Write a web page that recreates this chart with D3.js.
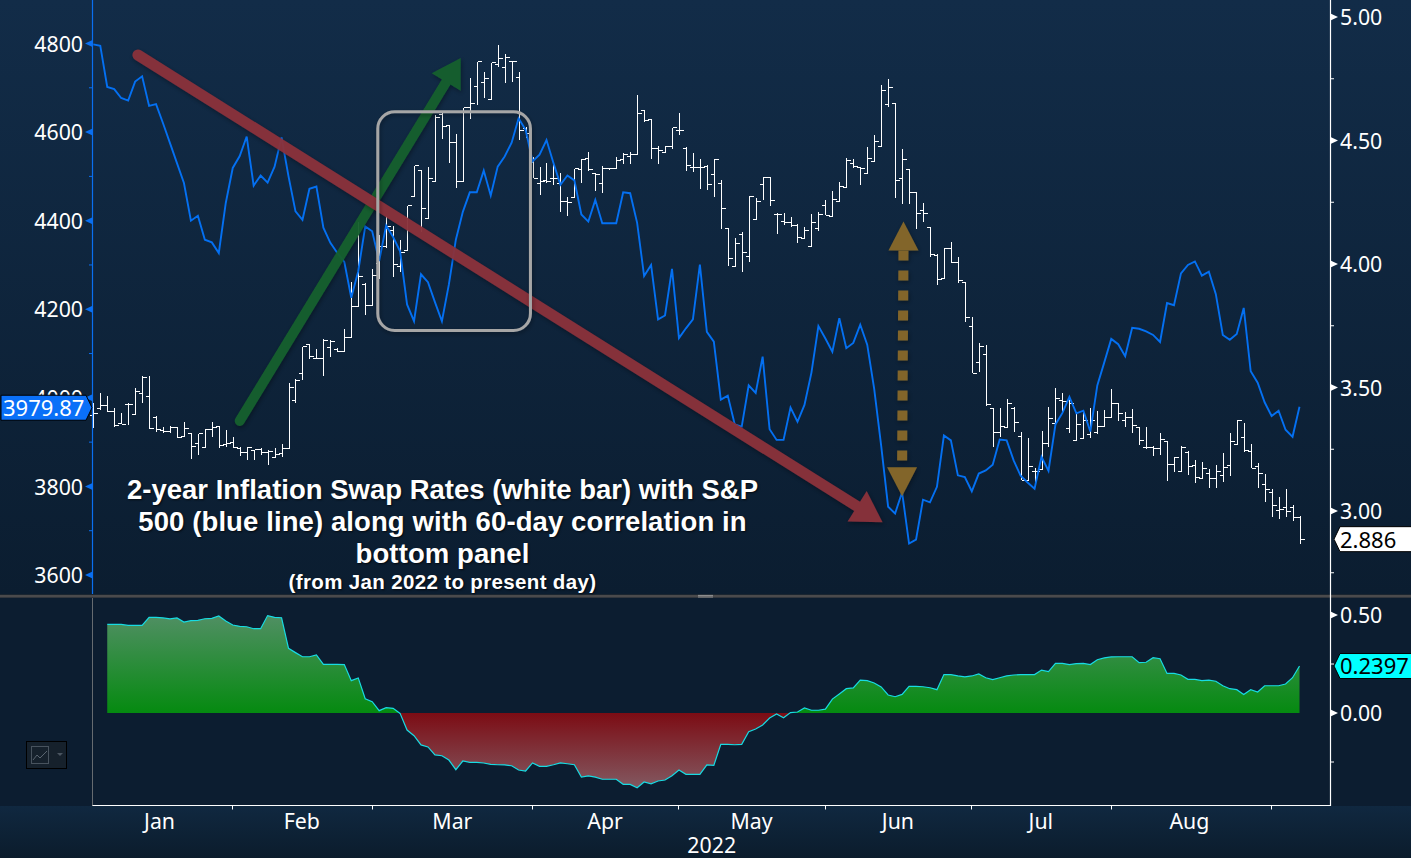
<!DOCTYPE html>
<html><head><meta charset="utf-8">
<script src="https://cdn.jsdelivr.net/npm/d3@7"></script>
<style>html,body{margin:0;padding:0;background:#0c1d30;overflow:hidden}svg{display:block}</style>
</head><body><svg id="c" width="1411" height="858"></svg>
<script>
const spx=[4798,4795,4702,4697,4677,4671,4714,4726,4659,4663,4620,4575,4530,4485,4400,4411,4357,4351,4327,4440,4519,4546,4590,4479,4502,4486,4522,4588,4500,4421,4402,4472,4477,4384,4350,4327,4307,4226,4286,4387,4376,4309,4389,4363,4331,
4211,4173,4279,4261,4216,4173,4256,4357,4420,
4464,4464,4513,4457,4522,4545,4576,4631,4605,4534,4549,4582,4530,4481,4502,4491,4414,4398,4447,4394,4394,4394,4464,4462,4395,4275,4300,4177,4186,4291,
4135,4157,4177,4301,4149,4127,3996,4005,3940,3935,4028,4011,4093,3929,3905,3905,3978,3946,3984,4057,4162,4134,4104,4180,4112,4124,4165,4120,4020,3892,3754,3739,3787,3671,3680,3770,3764,3799,
3915,3904,3825,3821,3789,3829,3836,3849,3906,3904,3859,3824,3809,3795,3867,3835,3940,3966,4002,3965,3971,3924,4028,4080,4133,4121,4094,4158,4156,4150,4142,4126,4214,4209,4281,4300,4308,4276,4285,4234,4142,4131,4144,4203,4060,4034,3990,3959,3971,3928,3912,3980];
const opens=[3.388,3.413,3.429,3.401,3.356,3.433,3.392,3.477,3.465,3.380,3.324,3.320,3.340,3.300,3.312,3.275,3.259,3.328,3.344,3.271,3.279,3.255,3.235,3.243,3.247,3.235,3.215,3.231,3.255,3.449,3.558,3.676,3.619,3.619,3.660,3.652,3.644,3.704,3.826,3.915,3.830,4.004,4.069,4.134,3.988,4.053,4.275,4.377,4.186,4.332,4.607,4.559,4.490,4.332,4.632,4.717,4.733,4.668,4.806,4.794,4.818,4.757,4.547,4.409,4.324,4.340,4.348,4.324,4.255,4.271,4.381,4.429,4.368,4.324,4.385,4.385,4.425,4.437,4.445,4.623,4.587,4.466,4.453,4.474,4.539,4.466,4.389,4.389,4.393,4.364,4.324,4.142,3.988,4.121,4.032,4.182,4.320,4.352,4.202,4.174,4.166,4.154,4.105,4.069,4.142,4.235,4.194,4.255,4.308,4.405,4.389,4.368,4.417,4.474,4.644,4.648,4.348,4.381,4.291,4.218,4.146,4.036,3.943,4.061,4.008,3.927,3.745,3.603,3.635,3.417,3.316,3.340,3.417,3.300,3.125,3.158,3.166,3.275,3.356,3.449,3.336,3.287,3.295,3.308,3.316,3.344,3.380,3.437,3.368,3.380,3.340,3.259,3.259,3.255,3.283,3.190,3.158,3.235,3.186,3.133,3.150,3.133,3.145,3.186,3.271,3.299,3.239,3.182,3.109,3.073,3.004,3.016,3.016,2.972];
const highs=[3.437,3.477,3.465,3.417,3.396,3.437,3.498,3.546,3.546,3.384,3.340,3.344,3.340,3.360,3.312,3.312,3.332,3.360,3.344,3.328,3.300,3.259,3.259,3.247,3.255,3.247,3.255,3.271,3.518,3.534,3.664,3.676,3.656,3.696,3.692,3.660,3.737,3.927,4.170,3.923,3.980,4.117,4.194,4.154,4.097,4.235,4.397,4.377,4.393,4.603,4.611,4.563,4.527,4.632,4.753,4.818,4.777,4.814,4.887,4.850,4.822,4.777,4.555,4.433,4.393,4.409,4.413,4.368,4.271,4.385,4.425,4.453,4.368,4.397,4.389,4.433,4.449,4.453,4.684,4.623,4.587,4.478,4.478,4.551,4.611,4.474,4.449,4.425,4.401,4.425,4.340,4.142,4.105,4.130,4.275,4.267,4.352,4.352,4.206,4.206,4.190,4.162,4.150,4.202,4.210,4.259,4.295,4.332,4.429,4.425,4.393,4.474,4.522,4.725,4.749,4.648,4.466,4.381,4.291,4.247,4.146,4.040,4.065,4.089,4.028,3.927,3.785,3.680,3.672,3.417,3.417,3.453,3.421,3.320,3.295,3.174,3.324,3.421,3.498,3.477,3.457,3.396,3.401,3.417,3.405,3.409,3.494,3.437,3.401,3.413,3.340,3.340,3.263,3.316,3.283,3.218,3.263,3.243,3.206,3.198,3.170,3.186,3.235,3.316,3.368,3.356,3.271,3.194,3.150,3.089,3.056,3.089,3.024,2.980];
const lows=[3.336,3.409,3.401,3.340,3.352,3.348,3.388,3.437,3.332,3.320,3.316,3.316,3.296,3.300,3.211,3.227,3.255,3.300,3.255,3.259,3.255,3.223,3.206,3.206,3.227,3.186,3.215,3.219,3.255,3.437,3.530,3.615,3.615,3.546,3.623,3.644,3.644,3.704,3.826,3.793,3.830,3.939,4.065,3.947,3.968,4.053,4.275,4.130,4.186,4.332,4.506,4.409,4.308,4.332,4.587,4.644,4.672,4.668,4.798,4.733,4.737,4.502,4.510,4.348,4.279,4.328,4.320,4.211,4.194,4.271,4.328,4.377,4.296,4.287,4.381,4.385,4.405,4.405,4.445,4.575,4.425,4.405,4.449,4.466,4.522,4.377,4.373,4.304,4.300,4.271,4.142,3.992,3.988,3.968,4.008,4.182,4.259,4.235,4.121,4.158,4.150,4.085,4.105,4.069,4.134,4.198,4.190,4.251,4.308,4.389,4.320,4.368,4.413,4.474,4.636,4.267,4.243,4.243,4.142,4.170,4.028,3.915,3.939,4.004,3.923,3.765,3.558,3.562,3.425,3.259,3.300,3.340,3.320,3.125,3.121,3.097,3.166,3.259,3.356,3.396,3.316,3.283,3.291,3.295,3.312,3.340,3.376,3.364,3.340,3.316,3.267,3.251,3.223,3.227,3.121,3.158,3.158,3.145,3.113,3.129,3.093,3.093,3.117,3.141,3.271,3.239,3.174,3.093,3.036,2.976,2.968,2.976,2.959,2.866];
const closes=[3.396,3.429,3.401,3.348,3.352,3.433,3.482,3.542,3.332,3.328,3.320,3.340,3.296,3.332,3.263,3.312,3.328,3.340,3.267,3.275,3.259,3.235,3.259,3.247,3.235,3.239,3.227,3.255,3.502,3.530,3.664,3.627,3.619,3.692,3.688,3.644,3.704,3.826,3.951,3.830,3.955,4.069,4.150,4.000,4.045,4.235,4.397,4.223,4.348,4.595,4.555,4.490,4.336,4.632,4.648,4.818,4.749,4.814,4.834,4.838,4.818,4.539,4.527,4.348,4.332,4.336,4.348,4.255,4.251,4.385,4.425,4.381,4.364,4.385,4.385,4.421,4.445,4.445,4.611,4.579,4.466,4.458,4.474,4.551,4.539,4.397,4.389,4.389,4.320,4.425,4.223,4.024,4.085,4.045,4.275,4.255,4.352,4.259,4.202,4.166,4.154,4.109,4.134,4.170,4.202,4.198,4.263,4.312,4.421,4.393,4.385,4.429,4.494,4.701,4.713,4.340,4.425,4.291,4.206,4.206,4.040,3.939,4.061,4.008,3.935,3.785,3.558,3.664,3.433,3.316,3.344,3.437,3.360,3.125,3.182,3.158,3.275,3.376,3.457,3.445,3.437,3.352,3.368,3.368,3.344,3.380,3.437,3.396,3.380,3.348,3.287,3.259,3.255,3.291,3.190,3.215,3.259,3.182,3.137,3.174,3.133,3.158,3.178,3.283,3.368,3.243,3.174,3.150,3.089,3.024,3.008,2.996,2.972,2.886];
const corr=[.452,.452,.452,.447,.447,.447,.488,.488,.485,.480,.485,.464,.471,.473,.481,.483,.495,.469,.449,.442,.440,.430,.430,.497,.488,.486,.330,.308,.287,.287,.296,.248,.248,.248,.247,.165,.179,.073,.058,.012,.027,.024,-.002,-.087,-.116,-.163,-.173,-.214,-.218,-.240,-.289,-.245,-.252,
-.252,-.255,-.262,-.264,-.265,-.269,-.291,-.296,-.255,-.272,-.272,-.264,-.255,-.259,-.264,-.327,-.321,-.327,-.338,-.338,-.338,-.364,-.364,-.381,-.352,-.361,-.347,-.342,-.320,-.291,-.313,-.313,-.313,-.265,-.267,-.160,-.160,-.162,-.160,-.095,-.082,-.061,-.026,-.005,-.024,.002,.005,.026,.014,.014,.020,.071,.097,.124,.128,.168,.165,.153,.133,.092,.083,.095,.136,.136,.134,.129,.119,
.196,.196,.189,.184,.189,.199,.180,.170,.180,.189,.194,.196,.196,.196,.219,.211,.253,.253,.247,.252,.253,.247,.272,.281,.286,.287,.287,.287,.257,.259,.282,.277,.202,.202,.194,.172,.172,.165,.168,.162,.139,.124,.119,.094,.119,.107,.139,.139,.139,.148,.180,.240];
const corrStart=2;
const leftTicks=[4800,4600,4400,4200,4000,3800,3600], leftMinor=[4700,4500,4300,4100,3900,3700];
const rightTicks=[5,4.5,4,3.5,3], rightMinor=[4.75,4.25,3.75,3.25,2.75];
const corrTicks=[.5,0], corrMinor=[.25,-.25];
const monthNames=["Jan","Feb","Mar","Apr","May","Jun","Jul","Aug"];
const monthCentres=[9.5,29.9,51.5,73.4,94.4,115.4,135.9,157.2];
const monthBreaks=[20,40,63,84,105,126,146,169];
const yearLabel="2022", yearCentre=88.7;
const lastSpx=3979.87, lastSwap=2.886, lastCorr=0.2397;
const titleLines=["2-year Inflation Swap Rates (white bar) with S&P","500 (blue line) along with 60-day correlation in","bottom panel"];
const subtitle="(from Jan 2022 to present day)";

const W=1411,H=858,L=92.5,R=1330.5,paneB=595,corrT=598,corrB=806;
const svg=d3.select("#c");
const x=d3.scaleLinear().domain([0,173]).range([93.3,1299.5]);
const yS=d3.scaleLinear().domain([3600,4800]).range([575,43.5]);
const yR=d3.scaleLinear().domain([3,5]).range([511,17]);
const yC=d3.scaleLinear().domain([0,.5]).range([713,615]);
const FONT='"Noto Sans",sans-serif';
const defs=svg.append("defs");
function grad(id,x1,x2,y1,y2,units,stops){const g=defs.append("linearGradient").attr("id",id).attr("x1",x1).attr("x2",x2).attr("y1",y1).attr("y2",y2).attr("gradientUnits",units);
 stops.forEach(s=>g.append("stop").attr("offset",s[0]).attr("stop-color",s[1]));}
grad("bgTop",0,0,0,1,"objectBoundingBox",[[0,"#122c48"],[1,"#0b1d30"]]);
grad("bgAxis",0,0,0,1,"objectBoundingBox",[[0,"#102840"],[1,"#0b1c2c"]]);
const gTop=yC(.49),gBot=yC(-.37),gz=(yC(0)-gTop)/(gBot-gTop);
grad("fillCorr",0,0,gTop,gBot,"userSpaceOnUse",[[0,"#4f8f62"],[gz,"#058a10"],[gz,"#7c0c14"],[1,"#82565e"]]);
const sh=defs.append("filter").attr("id","sh").attr("x","-10%").attr("y","-10%").attr("width","120%").attr("height","120%");
sh.append("feDropShadow").attr("dx",1).attr("dy",2).attr("stdDeviation",2).attr("flood-color","#000").attr("flood-opacity",.35);

// backgrounds
svg.append("rect").attr("width",W).attr("height",paneB).attr("fill","url(#bgTop)");
svg.append("rect").attr("y",paneB).attr("width",W).attr("height",corrB-paneB).attr("fill","#0c1d30");
svg.append("rect").attr("y",corrB).attr("width",W).attr("height",H-corrB).attr("fill","url(#bgAxis)");

// OHLC bars
const n=spx.length, idx=d3.range(n);
const bars=svg.append("g").attr("stroke","#fff").attr("stroke-width",1).attr("shape-rendering","crispEdges").selectAll("g").data(idx).join("g");
const px=i=>Math.round(x(i))+.5;
bars.append("line").attr("x1",px).attr("x2",px).attr("y1",i=>yR(highs[i])).attr("y2",i=>yR(lows[i]));
bars.append("line").attr("x1",i=>px(i)-4).attr("x2",px).attr("y1",i=>yR(opens[i])).attr("y2",i=>yR(opens[i]));
bars.append("line").attr("x1",px).attr("x2",i=>px(i)+4).attr("y1",i=>yR(closes[i])).attr("y2",i=>yR(closes[i]));

// S&P line
svg.append("path").datum(spx).attr("fill","none").attr("stroke","#0470f2").attr("stroke-width",1.9).attr("stroke-linejoin","miter")
 .attr("d",d3.line().x((d,i)=>x(i)).y(d=>yS(d)));

// correlation
const cLine=d3.line().x((d,i)=>x(i+corrStart)).y(d=>yC(d));
svg.append("path").datum(corr).attr("fill","url(#fillCorr)").attr("d",d3.area().x((d,i)=>x(i+corrStart)).y0(yC(0)).y1(d=>yC(d)));
svg.append("path").datum(corr).attr("fill","none").attr("stroke","#18dbe2").attr("stroke-width",1.2).attr("d",cLine);

// separator
svg.append("rect").attr("y",594).attr("width",W).attr("height",4).attr("fill","#1a2530");
svg.append("rect").attr("y",595).attr("width",W).attr("height",2.5).attr("fill","#4a4a4c");
[595.4,597].forEach(v=>svg.append("line").attr("x1",698).attr("x2",713).attr("y1",v).attr("y2",v).attr("stroke","#a8a8a8").attr("stroke-width",.8));

// axes lines
svg.append("line").attr("x1",L).attr("x2",L).attr("y1",0).attr("y2",594).attr("stroke","#0a6ff0").attr("stroke-width",1.2);
svg.append("line").attr("x1",L).attr("x2",L).attr("y1",598).attr("y2",corrB).attr("stroke","#666b70").attr("stroke-width",1);
svg.append("line").attr("x1",R).attr("x2",R).attr("y1",0).attr("y2",corrB).attr("stroke","#fff").attr("stroke-width",1.2);
svg.append("line").attr("x1",L).attr("x2",R+.5).attr("y1",corrB-.5).attr("y2",corrB-.5).attr("stroke","#fff").attr("stroke-width",1.2);
const tri=(ax,y,dir,c)=>svg.append("path").attr("d",`M${ax},${y-3.5}L${ax},${y+3.5}L${ax+dir*7.5},${y}Z`).attr("fill",c);
const minor=(ax,y,dir,c)=>svg.append("line").attr("x1",ax).attr("x2",ax+dir*3.5).attr("y1",y).attr("y2",y).attr("stroke",c).attr("stroke-width",1);
const label=(t,xx,y,anchor,fill,size)=>svg.append("text").attr("x",xx).attr("y",y).attr("dy","0.38em").attr("text-anchor",anchor).attr("fill",fill).attr("font-family",FONT).attr("font-size",size||21.3).text(t);
leftTicks.forEach(v=>{tri(L,yS(v),-1,"#0a6ff0");label(v,83,yS(v),"end","#fff");});
leftMinor.forEach(v=>minor(L,yS(v),-1,"#0a6ff0"));
rightTicks.forEach(v=>{tri(R,yR(v),1,"#fff");label(v.toFixed(2),1340,yR(v),"start","#fff");});
rightMinor.forEach(v=>minor(R,yR(v),1,"#fff"));
corrTicks.forEach(v=>{tri(R,yC(v),1,"#fff");label(v.toFixed(2),1340,yC(v),"start","#fff");});
corrMinor.forEach(v=>minor(R,yC(v),1,"#fff"));
monthBreaks.forEach(i=>svg.append("line").attr("x1",Math.floor(x(i))+.5).attr("x2",Math.floor(x(i))+.5).attr("y1",corrB).attr("y2",corrB+3.5).attr("stroke","#fff"));
monthNames.forEach((m,i)=>label(m,x(monthCentres[i]),820.5,"middle","#fff"));
label(yearLabel,x(yearCentre),845,"middle","#fff");

// value flags
function flag(xL,xR,y,tipDir,fill,txt,txtX,txtFill){
 const h=12.5;
 const d=tipDir<0?`M${xL},${y}L${xL+6},${y-h}L${xR},${y-h}L${xR},${y+h}L${xL+6},${y+h}Z`:`M${xL},${y-h}L${xR-6},${y-h}L${xR},${y}L${xR-6},${y+h}L${xL},${y+h}Z`;
 svg.append("path").attr("d",d).attr("fill",fill).attr("stroke","#000").attr("stroke-width",1);
 label(txt,txtX,y,"start",txtFill,22);
}
flag(1,92,yS(lastSpx)+1,1,"#0a70f8",lastSpx.toFixed(2),3,"#fff");
flag(1334,1412,yR(lastSwap),-1,"#fff",lastSwap.toFixed(3),1340,"#000");
flag(1334,1412,yC(lastCorr),-1,"#00ffff",lastCorr.toFixed(4),1340,"#000");

// icon
const ic=svg.append("g");
ic.append("rect").attr("x",26.5).attr("y",741.5).attr("width",40).attr("height",27).attr("fill","#16212c").attr("stroke","#000");
ic.append("rect").attr("x",31.5).attr("y",746.5).attr("width",17).attr("height",17).attr("fill","none").attr("stroke","#48535e");
ic.append("path").attr("d","M33,760L37,755L40,758L47,751").attr("fill","none").attr("stroke","#5a6570");
ic.append("path").attr("d","M57,753L63,753L60,756Z").attr("fill","#4a5560");

// annotations (anchored in chart coordinates)
const P=(i,v)=>[x(i),yS(v)];
const redFrom=[6.4,4774], redTo=[113.2,3719], greenFrom=[21,3948], greenTo=[52.7,4767], goldTop=[116.2,4398], goldBottom=[116.0,3778];
const boxCorners=[[40.8,4646],[62.7,4152]];
function arrow(from,to,sw,hw,hl,col){
 const [a,b]=[P(...from),P(...to)],dx=b[0]-a[0],dy=b[1]-a[1],len=Math.hypot(dx,dy),ux=dx/len,uy=dy/len;
 const nx=b[0]-ux*hl,ny=b[1]-uy*hl;
 const g=svg.append("g").attr("filter","url(#sh)").attr("opacity",.96);
 g.append("line").attr("x1",a[0]).attr("y1",a[1]).attr("x2",nx+ux).attr("y2",ny+uy).attr("stroke",col).attr("stroke-width",sw).attr("stroke-linecap","round");
 g.append("path").attr("d",`M${b}L${nx-uy*hw},${ny+ux*hw}L${nx+uy*hw},${ny-ux*hw}Z`).attr("fill",col);
}
const [bx1,by1]=P(...boxCorners[0]),[bx2,by2]=P(...boxCorners[1]);
arrow(greenFrom,greenTo,10,17,28,"#15602e");
arrow(redFrom,redTo,11,18,30,"#8a303b");
svg.append("rect").attr("x",bx1).attr("y",by1).attr("width",bx2-bx1).attr("height",by2-by1).attr("rx",17).attr("fill","none").attr("stroke","#a6a6a6").attr("stroke-width",3).attr("filter","url(#sh)");
// gold dashed double arrow
(function(){
 const gold="#86682a";const [t,b]=[P(...goldTop),P(...goldBottom)];
 const g=svg.append("g").attr("filter","url(#sh)").attr("opacity",.97);
 g.append("path").attr("d",`M${t}L${t[0]-15},${t[1]+29}L${t[0]+15},${t[1]+29}Z`).attr("fill",gold);
 g.append("path").attr("d",`M${b}L${b[0]-15},${b[1]-29}L${b[0]+15},${b[1]-29}Z`).attr("fill",gold);
 g.append("line").attr("x1",t[0]).attr("y1",t[1]+29).attr("x2",b[0]).attr("y2",b[1]-29).attr("stroke",gold).attr("stroke-width",10).attr("stroke-dasharray","10 10").attr("stroke-dashoffset",0);
})();

// headline text
const tg=svg.append("g").attr("font-family",'"Liberation Sans",Arial,sans-serif').attr("font-weight","700").attr("fill","#fff").attr("text-anchor","middle").style("text-shadow","1px 1px 2px rgba(0,0,0,.7)");
titleLines.forEach((t,i)=>tg.append("text").attr("x",442.5).attr("y",499+i*32).attr("font-size",27.5).attr("letter-spacing",i?0.1:0).text(t));
tg.append("text").attr("x",442.5).attr("y",588.5).attr("font-size",20.5).attr("letter-spacing",0.35).text(subtitle);
</script></body></html>
